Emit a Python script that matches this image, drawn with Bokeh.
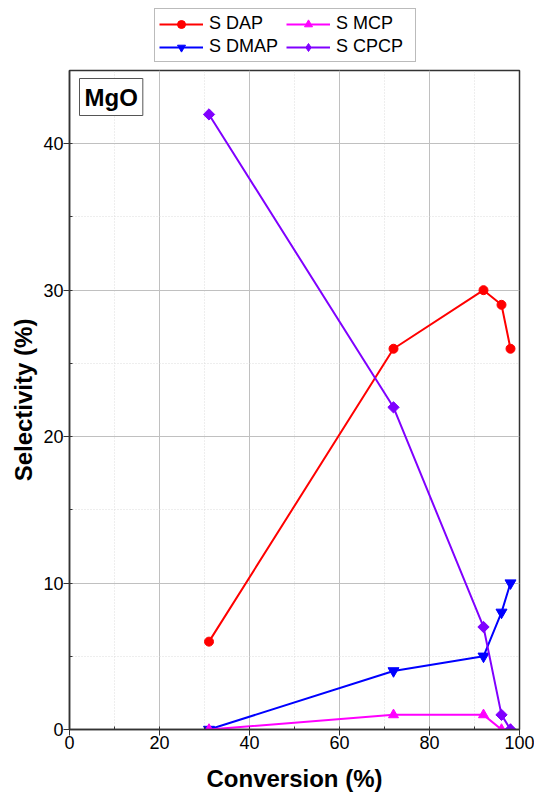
from bokeh.embed import file_html
from bokeh.resources import INLINE
from bokeh.layouts import column
from bokeh.models import Legend, LegendItem, Label, Range1d, SingleIntervalTicker
from bokeh.plotting import figure
import math

conversion = [31, 72, 92, 96, 98]
s_dap = [6, 26, 30, 29, 26]
s_dmap = [0, 4, 5, 8, 10]
s_mcp = [0, 1, 1, 0, 0]
s_cpcp = [42, 22, 7, 1, 0]

FONT = "Liberation Sans"

p = figure(frame_width=450, frame_height=659,
           min_border_left=69, min_border_right=15,
           min_border_top=8, min_border_bottom=68,
           x_range=Range1d(0, 100), y_range=Range1d(0, 45),
           output_backend="svg", toolbar_location=None)

p.outline_line_color = "#333333"
p.outline_line_width = 1.5

p.xaxis.ticker = SingleIntervalTicker(interval=20, num_minor_ticks=2)
p.yaxis.ticker = SingleIntervalTicker(interval=10, num_minor_ticks=2)

for ax in (p.xaxis, p.yaxis):
    ax.axis_line_color = "#333333"
    ax.axis_line_width = 1.5
    ax.major_tick_line_color = "#333333"
    ax.minor_tick_line_color = "#333333"
    ax.major_tick_out = 6
    ax.major_tick_in = 0
    ax.minor_tick_out = 0
    ax.minor_tick_in = 3
    ax.major_label_text_font = FONT
    ax.major_label_text_font_size = "18px"
    ax.major_label_text_color = "black"
    ax.major_label_standoff = 0
    ax.axis_label_text_font = FONT
    ax.axis_label_text_font_size = "24px"
    ax.axis_label_text_font_style = "bold"
    ax.axis_label_text_color = "black"

p.xaxis.axis_label = "Conversion (%)"
p.yaxis.axis_label = "Selectivity (%)"
p.xaxis.axis_label_standoff = 13
p.yaxis.axis_label_standoff = 3

p.grid.grid_line_color = "#c0c0c0"
p.grid.grid_line_width = 1
p.grid.minor_grid_line_color = "#dcdcdc"
p.grid.minor_grid_line_dash = "1 2"

series = [
    ("S DAP", s_dap, "#ff0000", "circle", 9, 0, "circle", 9),
    ("S DMAP", s_dmap, "#0000ff", "inverted_triangle", 11, 0, "inverted_triangle", 10),
    ("S MCP", s_mcp, "#ff00ff", "triangle", 10, 0, "triangle", 10),
    ("S CPCP", s_cpcp, "#8000ff", "square", 8, math.pi / 4, "diamond", 12),
]

# the legend sits above the frame, so it lives in its own strip;
# the strip's range is far away from the data so its copies stay out of view
leg = figure(width=534, height=62, min_border=0,
             x_range=Range1d(1000, 1001), y_range=Range1d(1000, 1001),
             x_axis_location=None, y_axis_location=None,
             output_backend="svg", toolbar_location=None)
leg.grid.visible = False
leg.outline_line_color = None

items = {}
for name, ys, color, marker, size, angle, leg_marker, leg_size in series:
    p.line(conversion, ys, line_color=color, line_width=2)
    p.scatter(conversion, ys, marker=marker, size=size, angle=angle,
              fill_color=color, line_color=color)
    ln = leg.line(conversion, ys, line_color=color, line_width=2)
    sc = leg.scatter(conversion, ys, marker=leg_marker, size=leg_size,
                     fill_color=color, line_color=color)
    items[name] = LegendItem(label=name, renderers=[ln, sc])

legend = Legend(items=[items["S DAP"], items["S MCP"], items["S DMAP"], items["S CPCP"]],
                orientation="horizontal", ncols=2,
                location=(85, 0),
                label_text_font=FONT, label_text_font_size="18px",
                label_text_color="black",
                glyph_width=44, glyph_height=20, spacing=2,
                label_standoff=6, label_width=75, padding=4, margin=0,
                border_line_color="#777777", border_line_width=1,
                background_fill_alpha=1)
leg.add_layout(legend)

tag = Label(x=10, y=614, x_units="screen", y_units="screen",
            text="MgO", text_font=FONT, text_font_size="24px",
            text_font_style="bold", text_color="black",
            border_line_color="#555555", border_line_width=1,
            background_fill_color="white", padding=5)
p.add_layout(tag)

open("out.html", "w").write(file_html(column(leg, p), INLINE))
